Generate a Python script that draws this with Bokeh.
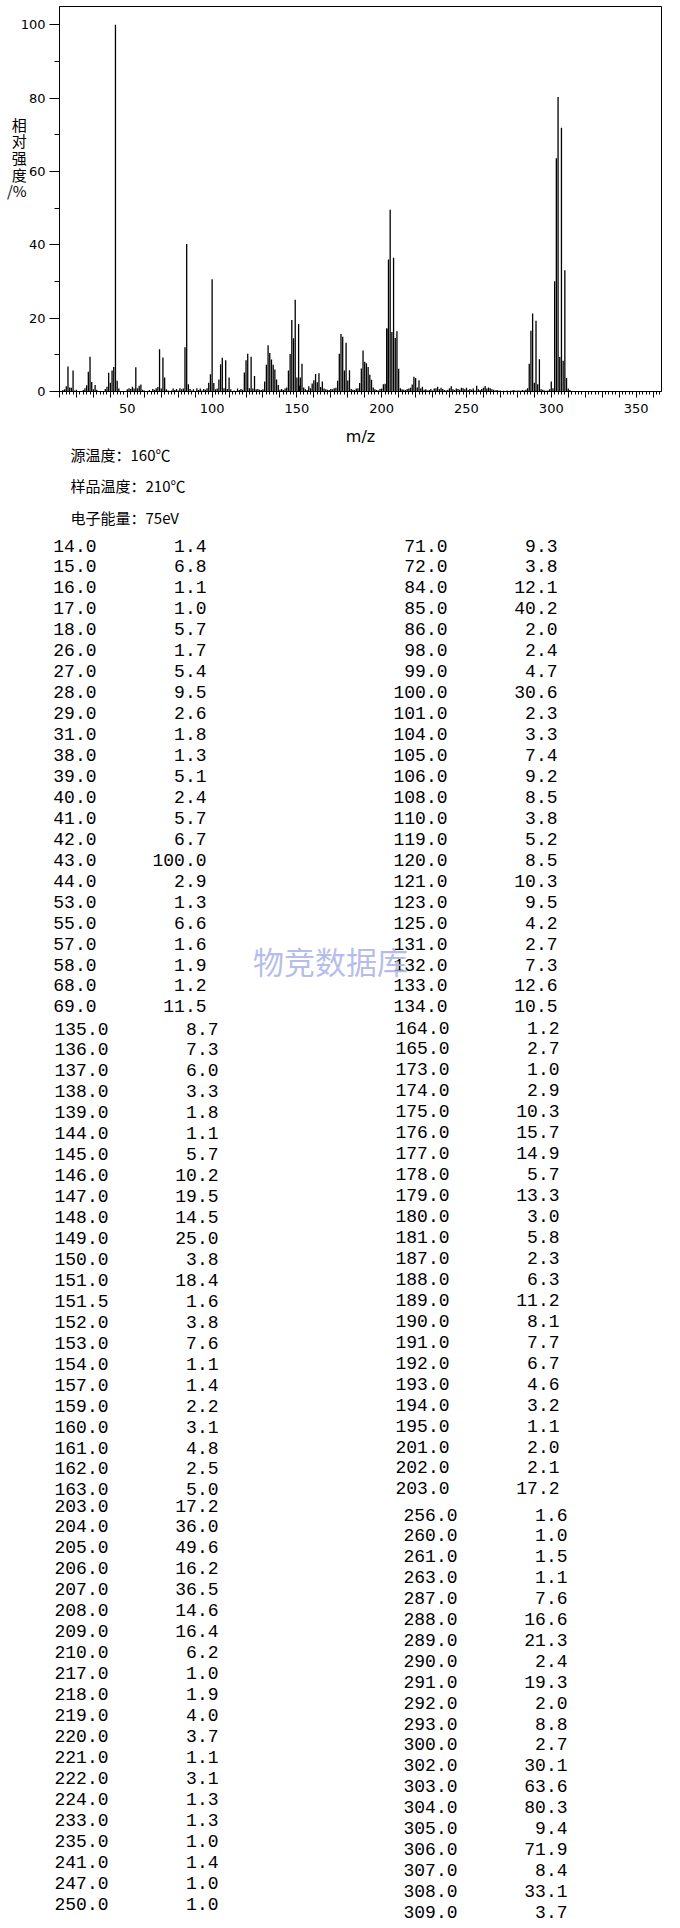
from bokeh.plotting import figure
from bokeh.models import Range1d, FixedTicker, ColumnDataSource
from bokeh.layouts import column
from bokeh.embed import file_html
from bokeh.resources import INLINE
from bokeh.core.properties import value

# ---------------- data ----------------
b1l_mz = [14.0, 15.0, 16.0, 17.0, 18.0, 26.0, 27.0, 28.0, 29.0, 31.0, 38.0, 39.0, 40.0, 41.0, 42.0, 43.0, 44.0, 53.0, 55.0, 57.0, 58.0, 68.0, 69.0]
b1l_in = [1.4, 6.8, 1.1, 1.0, 5.7, 1.7, 5.4, 9.5, 2.6, 1.8, 1.3, 5.1, 2.4, 5.7, 6.7, 100.0, 2.9, 1.3, 6.6, 1.6, 1.9, 1.2, 11.5]
b1r_mz = [71.0, 72.0, 84.0, 85.0, 86.0, 98.0, 99.0, 100.0, 101.0, 104.0, 105.0, 106.0, 108.0, 110.0, 119.0, 120.0, 121.0, 123.0, 125.0, 131.0, 132.0, 133.0, 134.0]
b1r_in = [9.3, 3.8, 12.1, 40.2, 2.0, 2.4, 4.7, 30.6, 2.3, 3.3, 7.4, 9.2, 8.5, 3.8, 5.2, 8.5, 10.3, 9.5, 4.2, 2.7, 7.3, 12.6, 10.5]
b2l_mz = [135.0, 136.0, 137.0, 138.0, 139.0, 144.0, 145.0, 146.0, 147.0, 148.0, 149.0, 150.0, 151.0, 151.5, 152.0, 153.0, 154.0, 157.0, 159.0, 160.0, 161.0, 162.0, 163.0]
b2l_in = [8.7, 7.3, 6.0, 3.3, 1.8, 1.1, 5.7, 10.2, 19.5, 14.5, 25.0, 3.8, 18.4, 1.6, 3.8, 7.6, 1.1, 1.4, 2.2, 3.1, 4.8, 2.5, 5.0]
b2r_mz = [164.0, 165.0, 173.0, 174.0, 175.0, 176.0, 177.0, 178.0, 179.0, 180.0, 181.0, 187.0, 188.0, 189.0, 190.0, 191.0, 192.0, 193.0, 194.0, 195.0, 201.0, 202.0, 203.0]
b2r_in = [1.2, 2.7, 1.0, 2.9, 10.3, 15.7, 14.9, 5.7, 13.3, 3.0, 5.8, 2.3, 6.3, 11.2, 8.1, 7.7, 6.7, 4.6, 3.2, 1.1, 2.0, 2.1, 17.2]
b3l_mz = [203.0, 204.0, 205.0, 206.0, 207.0, 208.0, 209.0, 210.0, 217.0, 218.0, 219.0, 220.0, 221.0, 222.0, 224.0, 233.0, 235.0, 241.0, 247.0, 250.0]
b3l_in = [17.2, 36.0, 49.6, 16.2, 36.5, 14.6, 16.4, 6.2, 1.0, 1.9, 4.0, 3.7, 1.1, 3.1, 1.3, 1.3, 1.0, 1.4, 1.0, 1.0]
b3r_mz = [256.0, 260.0, 261.0, 263.0, 287.0, 288.0, 289.0, 290.0, 291.0, 292.0, 293.0, 300.0, 302.0, 303.0, 304.0, 305.0, 306.0, 307.0, 308.0, 309.0]
b3r_in = [1.6, 1.0, 1.5, 1.1, 7.6, 16.6, 21.3, 2.4, 19.3, 2.0, 8.8, 2.7, 30.1, 63.6, 80.3, 9.4, 71.9, 8.4, 33.1, 3.7]

# small (<1 %) peaks visible along the baseline of the spectrum (estimated)
minor_mz = [12, 13, 19, 20, 24, 25, 30, 32, 37, 45, 50, 51, 52, 54, 56, 59, 60, 63, 65, 66, 67, 70, 73, 74, 76, 77, 78, 79, 80,
            81, 82, 83, 87, 88, 89, 91, 92, 93, 94, 95, 96, 97, 102, 103, 107, 109, 111, 113, 115, 116, 117, 118, 122, 124,
            126, 127, 128, 129, 130, 140, 141, 142, 143, 155, 156, 158, 166, 167, 168, 169, 170, 171, 172, 182, 183, 184,
            185, 186, 196, 197, 198, 199, 200, 211, 212, 213, 214, 215, 216, 223, 225, 226, 227, 228, 229, 230, 231, 232,
            234, 236, 237, 238, 239, 240, 242, 243, 244, 245, 246, 248, 249, 251, 252, 253, 254, 255, 257, 258, 259, 262,
            264, 265, 266, 267, 268, 269, 270, 272, 274, 276, 277, 278, 279, 280, 281, 282, 283, 284, 285, 286, 294, 295,
            296, 297, 298, 299, 301, 310, 311]
minor_in = [0.4, 0.6, 0.3, 0.5, 0.4, 0.9, 0.6, 0.5, 0.7, 0.8, 0.6, 0.9, 0.7, 0.8, 0.9, 0.5, 0.3, 0.4, 0.7, 0.5, 0.9, 0.8, 0.6, 0.3, 0.3, 0.8, 0.4, 0.7, 0.3,
            0.9, 0.6, 0.8, 0.7, 0.3, 0.6, 0.9, 0.4, 0.8, 0.3, 0.7, 0.5, 0.9, 0.6, 0.8, 0.9, 0.7, 0.6, 0.3, 0.8, 0.4, 0.7, 0.5, 0.9, 0.8,
            0.6, 0.7, 0.5, 0.4, 0.6, 0.5, 0.7, 0.4, 0.8, 0.6, 0.4, 0.9, 0.8, 0.6, 0.5, 0.4, 0.7, 0.6, 0.9, 0.7, 0.5, 0.4,
            0.8, 0.9, 0.6, 0.4, 0.3, 0.7, 0.8, 0.9, 0.6, 0.5, 0.4, 0.7, 0.8, 0.8, 0.5, 0.6, 0.3, 0.4, 0.7, 0.3, 0.8, 0.9,
            0.6, 0.7, 0.4, 0.3, 0.5, 0.9, 0.6, 0.4, 0.8, 0.7, 0.5, 0.9, 0.6, 0.4, 0.7, 0.5, 0.8, 0.3, 0.6, 0.4, 0.7, 0.8,
            0.9, 0.6, 0.5, 0.3, 0.4, 0.2, 0.3, 0.2, 0.3, 0.2, 0.3, 0.4, 0.2, 0.3, 0.3, 0.2, 0.4, 0.3, 0.5, 0.9, 0.6, 0.5,
            0.3, 0.2, 0.3, 0.6, 0.9, 0.8, 0.4]

info_lines = ["源温度：160℃", "样品温度：210℃", "电子能量：75eV"]
y_title_lines = ["相", "对", "强", "度", "/%"]
x_label = "m/z"
watermark = "物竞数据库"

y_ticks = [0, 20, 40, 60, 80, 100]
y_minor = [10, 30, 50, 70, 90]
x_ticks = list(range(10, 361, 10))
x_labeled = [50, 100, 150, 200, 250, 300, 350]
x_minor = list(range(10, 366, 2))

# ---------------- spectrum ----------------
all_mz = b1l_mz + b1r_mz + b2l_mz + b2r_mz + b3l_mz + b3r_mz + minor_mz
all_in = b1l_in + b1r_in + b2l_in + b2r_in + b3l_in + b3r_in + minor_in
src = ColumnDataSource(dict(mz=all_mz, inten=all_in, base=[0] * len(all_mz)))

P_TOP, P_FRAME_H, P_BOTTOM = 6, 385, 70
p = figure(width=680, height=P_TOP + P_FRAME_H + P_BOTTOM, x_range=Range1d(10, 365), y_range=Range1d(0, 105.0),
           output_backend="svg", toolbar_location=None,
           min_border_left=59, min_border_right=19, min_border_top=P_TOP, min_border_bottom=P_BOTTOM)
p.frame_align = False
p.xgrid.visible = False
p.ygrid.visible = False
p.outline_line_color = "black"
p.outline_line_width = 1

p.segment(x0="mz", y0="base", x1="mz", y1="inten", source=src, line_color="black", line_width=1.3)

ax = p.yaxis[0]
ax.ticker = FixedTicker(ticks=y_ticks, minor_ticks=y_minor)
ax.major_tick_out = 10
ax.major_tick_in = 0
ax.minor_tick_out = 5
ax.minor_tick_in = 0
ax.major_label_standoff = 4
ax.major_label_text_font = "DejaVu Sans"
ax.major_label_text_font_size = "13px"
ax.major_label_text_color = "black"
ax.axis_line_color = "black"
ax.major_tick_line_color = "black"
ax.minor_tick_line_color = "black"
# stacked upright title; trailing blank lines lift the block above the frame centre
ax.axis_label = "\n".join(y_title_lines + ["\u3000"] * 5)
ax.axis_label_orientation = "horizontal"
ax.axis_label_text_font = "Noto Sans CJK SC"
ax.axis_label_text_font_size = "15px"
ax.axis_label_text_font_style = "normal"
ax.axis_label_text_color = "black"
ax.axis_label_text_line_height = 0.79
ax.axis_label_standoff = -9

bx = p.xaxis[0]
bx.ticker = FixedTicker(ticks=x_ticks, minor_ticks=x_minor)
bx.major_label_overrides = {t: ("" if t not in x_labeled else str(t)) for t in x_ticks}
bx.major_tick_out = 6
bx.major_tick_in = 0
bx.minor_tick_out = 3
bx.minor_tick_in = 0
bx.major_label_standoff = 6
bx.major_label_text_font = "DejaVu Sans"
bx.major_label_text_font_size = "13px"
bx.major_label_text_color = "black"
bx.axis_line_color = "black"
bx.major_tick_line_color = "black"
bx.minor_tick_line_color = "black"
bx.axis_label = x_label
bx.axis_label_text_font = "DejaVu Sans"
bx.axis_label_text_font_size = "16px"
bx.axis_label_text_font_style = "normal"
bx.axis_label_text_color = "black"
bx.axis_label_standoff = 11

# ---------------- info text + peak table ----------------
# full-width frame; x / y data = pixel column / row of the page
OVERLAP = 16
q_top = P_TOP + P_FRAME_H + P_BOTTOM - OVERLAP
q_h = 1925 - q_top
q = figure(width=680, height=q_h, x_range=Range1d(0, 680), y_range=Range1d(q_top + q_h, q_top),
           output_backend="svg", toolbar_location=None, x_axis_location=None, y_axis_location=None,
           min_border_left=0, min_border_right=0, min_border_top=0, min_border_bottom=0)
q.frame_align = False
q.margin = (-OVERLAP, 0, 0, 0)
q.grid.visible = False
q.outline_line_color = None
q.background_fill_alpha = 0
q.border_fill_alpha = 0

q.text(x=[70] * len(info_lines), y=[454, 485, 517], text=info_lines, text_align="left",
       text_baseline="middle", text_font=value("Noto Sans CJK SC"), text_font_size="15px",
       text_color="black")

blocks = [
    (b1l_mz, b1l_in, 96, 206, 545, 20.95),
    (b1r_mz, b1r_in, 447, 557, 545, 20.95),
    (b2l_mz, b2l_in, 108, 218, 1028, 20.95),
    (b2r_mz, b2r_in, 449, 559, 1027, 20.95),
    (b3l_mz, b3l_in, 108, 218, 1505, 20.95),
    (b3r_mz, b3r_in, 457, 567, 1514, 20.9),
]
for mzs, ins, xr_mz, xr_in, y0, dy in blocks:
    ys = [y0 + i * dy for i in range(len(mzs))]
    q.text(x=[xr_mz] * len(mzs), y=ys, text=[f"{m:.1f}" for m in mzs], text_align="right",
           text_baseline="middle", text_font=value("Liberation Mono"), text_font_size="18px",
           text_color="black")
    q.text(x=[xr_in] * len(ins), y=ys, text=[f"{v:.1f}" for v in ins], text_align="right",
           text_baseline="middle", text_font=value("Liberation Mono"), text_font_size="18px",
           text_color="black")

q.text(x=[330], y=[960], text=[watermark], text_align="center", text_baseline="middle",
       text_font=value("Noto Sans CJK SC"), text_font_size="31px", text_color="#a9b1e8",
       text_alpha=0.85)

layout = column(p, q, spacing=0)
open("out.html", "w").write(file_html(layout, INLINE))
